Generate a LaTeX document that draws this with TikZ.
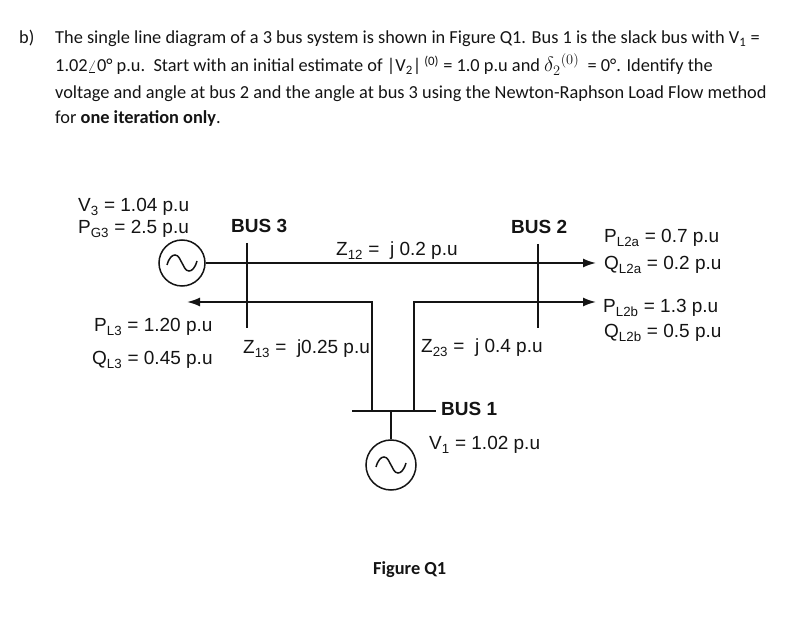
\documentclass[tikz,border=0pt]{standalone}
\usepackage{fontspec}
\setmainfont{Liberation Sans}
\newfontfamily\bodyfont{Carlito}
\usetikzlibrary{positioning, arrows.meta, calc}
\definecolor{ink}{RGB}{20,20,20}
\tikzset{
    parline/.style={anchor=base west, inner sep=0pt, font=\bodyfont\fontsize{18.35}{20}\selectfont, text=ink},
    lbl/.style={anchor=base west, inner sep=0pt, font=\fontsize{19}{20}\selectfont, text=ink},
    buslbl/.style={anchor=base west, inner sep=0pt, font=\fontsize{19}{20}\selectfont\bfseries, text=ink},
    wire/.style={ink, line width=1.7pt},
    bus/.style={ink, line width=1.7pt},
    load/.style={wire, -{Latex[length=13pt, width=9pt]}},
    gen/.style={circle, draw=ink, line width=1.5pt, fill=white, inner sep=0pt},
    wave/.pic={\draw[ink, line width=1.5pt] (-15,2) .. controls (-13,-5) and (-10,-8) .. (-7,-8) .. controls (-3,-8) and (-2,-3) .. (0,0) .. controls (2,3) and (3,8) .. (7,8) .. controls (10,8) and (13,5) .. (15,-2);}
}
\begin{document}
\begin{tikzpicture}[x=1pt, y=-1pt]
        \useasboundingbox (0,0) rectangle (788,620);
        % Question text
        \node[parline] (partb) at (19,44) {b)};
        \node[parline] (line1) at (55,44) {The single line diagram of a 3 bus system is shown in Figure Q1. Bus 1 is the slack bus with V\textsubscript{1} =};
        \node[parline] (line2) at (55,72) {1.02$\angle$0° p.u.\ \ Start with an initial estimate of |V\textsubscript{2}|\,\textsuperscript{(0)} = 1.0 p.u and {\fontsize{22}{22}\selectfont$\delta_2{}^{(0)}$}\ \ = 0°. Identify the};
        \node[parline] (line3) at (55,99) {voltage and angle at bus 2 and the angle at bus 3 using the Newton-Raphson Load Flow method};
        \node[parline] (line4) at (55,124) {for \textbf{one iteration only}.};

        % Generators
        \node[gen, minimum size=46pt] (gen3) at (182,263) {};
        \pic at (gen3) {wave};
        \node[gen, minimum size=50pt] (gen1) at (391,465) {};
        \pic at (gen1) {wave};

        % Bus bars
        \coordinate (bus3top) at (247,243);
        \coordinate (bus3bot) at (247,328);
        \coordinate (bus2top) at (538,244);
        \coordinate (bus2bot) at (538,328);
        \coordinate (bus1left) at (352,411);
        \coordinate (bus1right) at (436,411);
        \draw[bus] (bus3top) -- (bus3bot);
        \draw[bus] (bus2top) -- (bus2bot);
        \draw[bus] (bus1left) -- (bus1right);

        % Lines
        \coordinate (loadL3) at (187,302);
        \coordinate (loadL2a) at (596,263);
        \coordinate (loadL2b) at (596,302);
        \coordinate (tapL) at (372,411);
        \coordinate (tapR) at (414,411);
        \coordinate (stem) at (391,411);
        \draw[load] (gen3.east) -- (loadL2a);
        \draw[load] (tapL) |- (loadL3);
        \draw[load] (tapR) |- (loadL2b);
        \draw[wire] (stem) -- (gen1.north);

        % Labels
        \node[buslbl] (bus3) at (231,233) {BUS 3};
        \node[buslbl] (bus2) at (511,234) {BUS 2};
        \node[buslbl] (bus1) at (441,416) {BUS 1};
        \node[lbl] (v3) at (78,212) {V\textsubscript{3} = 1.04 p.u};
        \node[lbl] (pg3) at (78,234) {P\textsubscript{G3} = 2.5 p.u};
        \node[lbl] (pl3) at (94,332) {P\textsubscript{L3} = 1.20 p.u};
        \node[lbl] (ql3) at (92,365) {Q\textsubscript{L3} = 0.45 p.u};
        \node[lbl] (z12) at (336,256) {Z\textsubscript{12} =\ \ j 0.2 p.u};
        \node[lbl] (z13) at (243,354) {Z\textsubscript{13} =\ \ j0.25 p.u};
        \node[lbl] (z23) at (421,353) {Z\textsubscript{23} =\ \ j 0.4 p.u};
        \node[lbl] (pl2a) at (604,243) {P\textsubscript{L2a} = 0.7 p.u};
        \node[lbl] (ql2a) at (604,270) {Q\textsubscript{L2a} = 0.2 p.u};
        \node[lbl] (pl2b) at (603,313) {P\textsubscript{L2b} = 1.3 p.u};
        \node[lbl] (ql2b) at (604,338) {Q\textsubscript{L2b} = 0.5 p.u};
        \node[lbl] (v1) at (429,450) {V\textsubscript{1} = 1.02 p.u};
        \node[parline, font=\bodyfont\fontsize{18.35}{20}\selectfont\bfseries] (figq1) at (373,574) {Figure Q1};
\end{tikzpicture}
\end{document}
